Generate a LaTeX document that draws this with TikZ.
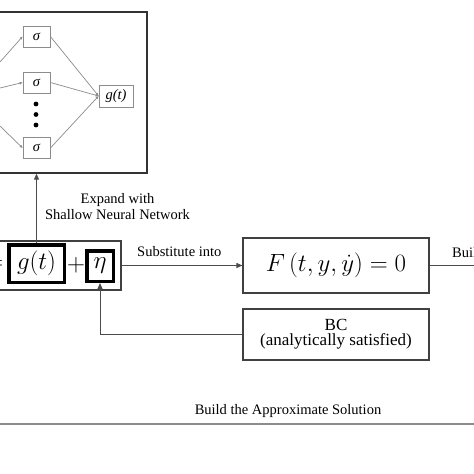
\documentclass[tikz,border=0pt]{standalone}
\usepackage{fontspec}
\setmainfont{Liberation Serif}
\usetikzlibrary{arrows.meta}
\begin{document}
\begin{tikzpicture}[x=1pt,y=-1pt,
  lbl/.style={font=\fontsize{14.5}{16}\selectfont, inner sep=0pt},
  frame/.style={draw=black!75, line width=1.1pt, inner sep=0pt},
  thickbox/.style={draw=black, line width=3.5pt, inner sep=0pt, font=\fontsize{28}{30}\selectfont},
  nnbox/.style={draw=black!45, line width=0.8pt, fill=white, font=\fontsize{14.5}{16}\selectfont\itshape, inner sep=0pt},
  conn/.style={draw=black!70, line width=0.9pt, -{Triangle[length=6pt,width=5pt]}},
  plainconn/.style={draw=black!70, line width=0.9pt},
  nnconn/.style={draw=black!45, line width=0.7pt, -{Triangle[length=3pt,width=2.5pt]}},
]
\useasboundingbox (0,0) rectangle (474,474);
\fill[white] (0,0) rectangle (474,474);
\begin{scope}
\clip (0,0) rectangle (474,474);
% neural network frame
\node[draw=black!80, line width=1.3pt, minimum width=167pt, minimum height=161pt, inner sep=0pt] (nn) at (63.5,92.5) {};
\node[nnbox, minimum width=27pt, minimum height=21pt] (s1) at (36.5,36.5) {σ};
\node[nnbox, minimum width=27pt, minimum height=21pt] (s2) at (36.5,82.5) {σ};
\node[nnbox, minimum width=27pt, minimum height=21pt] (s3) at (36.5,148) {σ};
\node[nnbox, minimum width=34pt, minimum height=22pt] (g) at (116,96) {g(t)};
\coordinate (i1) at (0,62);
\coordinate (i2) at (0,88);
\coordinate (i3) at (0,126);
\draw[nnconn] (i1) -- (s1.west);
\draw[nnconn] (i2) -- (s2.west);
\draw[nnconn] (i3) -- (s3.west);
\draw[nnconn] (s1.east) -- (g.west);
\draw[nnconn] (s2.east) -- (g.west);
\draw[nnconn] (s3.east) -- (g.west);
\fill (36,104) circle (2.4pt);
\fill (36,114.5) circle (2.4pt);
\fill (36,125) circle (2.4pt);
% y-hat box
\node[frame, minimum width=161pt, minimum height=49pt] (yh) at (40.5,265.5) {};
\node[inner sep=0pt, anchor=east, font=\fontsize{28}{30}\selectfont] (eq) at (3.5,265.5) {$=$};
\node[thickbox, minimum width=55.5pt, minimum height=37.5pt] (gt) at (36.5,263.5) {$g(t)$};
\node[inner sep=0pt, font=\fontsize{28}{30}\selectfont] (plus) at (76,265.5) {$+$};
\node[thickbox, minimum width=26.5pt, minimum height=30.5pt] (eta) at (100,266) {$\eta$};
% F box
\node[frame, minimum width=186pt, minimum height=55pt, font=\fontsize{27}{30}\selectfont] (F) at (336,265.5) {$F\left(t,y,\dot{y}\right)=0$};
% BC box
\node[frame, minimum width=186pt, minimum height=51pt, align=center, font=\fontsize{17}{15}\selectfont] (bc) at (336,334.5) {BC\\(analytically satisfied)};
% connectors
\draw[conn] (gt.north) -- (gt.north |- nn.south);
\node[lbl, anchor=base] (exp1) at (117.5,203) {Expand with};
\node[lbl, anchor=base] (exp2) at (117.5,219) {Shallow Neural Network};
\draw[conn] (yh.east) -- (F.west);
\node[lbl, anchor=base west] (sub) at (137,256) {Substitute into};
\coordinate (out) at (480,265.5);
\draw[plainconn] (F.east) -- (out);
\node[lbl, anchor=base west] (build) at (452,257) {Build};
\draw[conn] (bc.west) -| (eta.south);
% bottom
\node[lbl, anchor=base] (sol) at (288,414) {Build the Approximate Solution};
\coordinate (l1) at (-5,424);
\coordinate (l2) at (480,424);
\draw[black!45, line width=2pt] (l1) -- (l2);
\end{scope}
\end{tikzpicture}
\end{document}
